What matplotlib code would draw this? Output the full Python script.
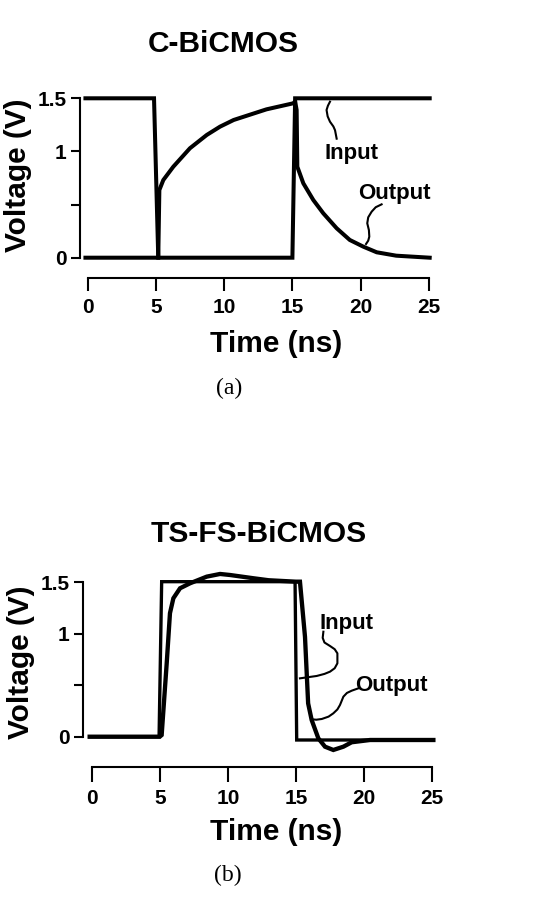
import matplotlib
matplotlib.use("Agg")
import matplotlib.pyplot as plt

W, H = 544, 902
SANS = ["Liberation Sans", "DejaVu Sans"]
SERIF = ["Liberation Serif", "DejaVu Serif"]

# (a) C-BiCMOS
a_in_t = [-0.15, 4.87, 5.18, 15.0, 15.2, 25.05]
a_in_v = [1.5, 1.5, 0.0, 0.0, 1.5, 1.5]
a_out_t = [-0.15, 5.18, 5.26, 5.55, 6.28, 7.5, 8.73, 9.7, 10.7, 13.1, 15.06, 15.2, 15.31, 15.36, 15.8, 16.53, 17.26, 18.24, 19.2, 20.19, 21.17, 22.6, 25.05]
a_out_v = [0.0, 0.0, 0.637, 0.731, 0.856, 1.03, 1.155, 1.233, 1.296, 1.396, 1.453, 1.47, 1.39, 0.856, 0.70, 0.543, 0.418, 0.277, 0.167, 0.104, 0.051, 0.019, 0.0]
a_lead_in_t = [17.75, 17.6, 17.5, 17.58, 17.75, 18.0, 18.12, 18.24]
a_lead_in_v = [1.468, 1.43, 1.39, 1.33, 1.28, 1.235, 1.2, 1.12]
a_lead_out_t = [20.39, 20.55, 20.63, 20.6, 20.48, 20.55, 20.8, 21.1, 21.53]
a_lead_out_v = [0.129, 0.16, 0.198, 0.26, 0.324, 0.38, 0.433, 0.475, 0.502]

# (b) TS-FS-BiCMOS
b_in_t = [-0.15, 4.95, 5.14, 14.94, 15.06, 25.1]
b_in_v = [0.0, 0.0, 1.506, 1.506, -0.032, -0.032]
b_out_t = [-0.15, 5.0, 5.14, 5.51, 5.75, 6.0, 6.49, 7.22, 8.45, 9.43, 10.16, 11.9, 13.0, 15.0, 15.3, 15.67, 15.9, 16.16, 16.65, 17.14, 17.75, 18.49, 19.1, 20.45, 25.1]
b_out_v = [0.0, 0.0, 0.016, 0.713, 1.2, 1.345, 1.442, 1.49, 1.555, 1.581, 1.571, 1.539, 1.52, 1.506, 1.506, 0.97, 0.324, 0.162, -0.016, -0.097, -0.129, -0.097, -0.054, -0.032, -0.032]
b_lead_in_t = [15.3, 16.53, 17.1, 17.51, 17.85, 18.05, 18.05, 17.85, 17.51, 17.1, 16.97, 17.02]
b_lead_in_v = [0.567, 0.59, 0.61, 0.632, 0.665, 0.713, 0.81, 0.85, 0.881, 0.915, 0.96, 1.02]
b_lead_out_t = [16.16, 16.5, 16.9, 17.4, 17.75, 18.05, 18.24, 18.49, 18.75, 19.1, 19.59]
b_lead_out_v = [0.169, 0.165, 0.172, 0.195, 0.227, 0.265, 0.308, 0.389, 0.425, 0.447, 0.47]

x_ticks = [0, 5, 10, 15, 20, 25]
y_ticks = [0, 0.5, 1, 1.5]
y_tick_labels = ["0", "", "1", "1.5"]


def _text(fig, px, py, s, **kw):
    fig.text(px / W, 1 - py / H, s, ha="center", va="center", color="black", **kw)


def _panel(fig, box, left_off, bottom_off, tick_px, curves, leaders, labels):
    x0, x1, y_top, y_bot = box
    ax = fig.add_axes([x0 / W, 1 - y_bot / H, (x1 - x0) / W, (y_bot - y_top) / H])
    ax.patch.set_alpha(0)
    ax.set_xlim(0, 25)
    ax.set_ylim(0, 1.5)
    for s in ("top", "right"):
        ax.spines[s].set_visible(False)
    ax.spines["left"].set_position(("outward", left_off * 0.72))
    ax.spines["bottom"].set_position(("outward", bottom_off * 0.72))
    ax.spines["left"].set_linewidth(1.5)
    ax.spines["bottom"].set_linewidth(1.5)
    ax.set_xticks(x_ticks)
    ax.set_yticks(y_ticks)
    ax.set_yticklabels(y_tick_labels)
    ax.tick_params(axis="x", length=tick_px * 0.72, width=1.5, pad=5, labelsize=15)
    ax.tick_params(axis="y", length=6.5, width=1.5, pad=3, labelsize=15)
    for t in ax.get_xticklabels() + ax.get_yticklabels():
        t.set_family(SANS)
        t.set_fontweight("bold")
    for t, v, lw in curves:
        ax.plot(t, v, color="black", lw=lw, clip_on=False, solid_joinstyle="miter")
    for t, v in leaders:
        ax.plot(t, v, color="black", lw=1.5, clip_on=False, solid_joinstyle="round")
    for t, v, s in labels:
        ax.text(t, v, s, ha="center", va="center", family=SANS, fontweight="bold", fontsize=16)
    return ax


def main():
    fig = plt.figure(figsize=(W / 100, H / 100), dpi=100, facecolor="white")

    _panel(fig, (87.5, 429, 98.3, 257.7), 7.5, 20, 13,
           [(a_in_t, a_in_v, 2.9), (a_out_t, a_out_v, 2.9)],
           [(a_lead_in_t, a_lead_in_v), (a_lead_out_t, a_lead_out_v)],
           [(19.3, 0.985, "Input"), (22.44, 0.60, "Output")])
    _panel(fig, (91.7, 432, 582.3, 736.7), 9, 30, 15,
           [(b_in_t, b_in_v, 2.4), (b_out_t, b_out_v, 3.1)],
           [(b_lead_in_t, b_lead_in_v), (b_lead_out_t, b_lead_out_v)],
           [(18.73, 1.095, "Input"), (22.04, 0.50, "Output")])

    bold = dict(family=SANS, fontweight="bold")
    _text(fig, 223, 44, "C-BiCMOS", fontsize=21.5, **bold)
    _text(fig, 259, 534, "TS-FS-BiCMOS", fontsize=21.5, **bold)
    _text(fig, 18, 175, "Voltage (V)", fontsize=21.5, rotation=90, **bold)
    _text(fig, 21, 662, "Voltage (V)", fontsize=21.5, rotation=90, **bold)
    _text(fig, 276, 344, "Time (ns)", fontsize=21.5, **bold)
    _text(fig, 276, 832, "Time (ns)", fontsize=21.5, **bold)
    _text(fig, 229, 388, "(a)", fontsize=17, family=SERIF)
    _text(fig, 228, 875, "(b)", fontsize=17, family=SERIF)

    fig.savefig("out.png", dpi=100)
    plt.close(fig)


if __name__ == "__main__":
    main()
